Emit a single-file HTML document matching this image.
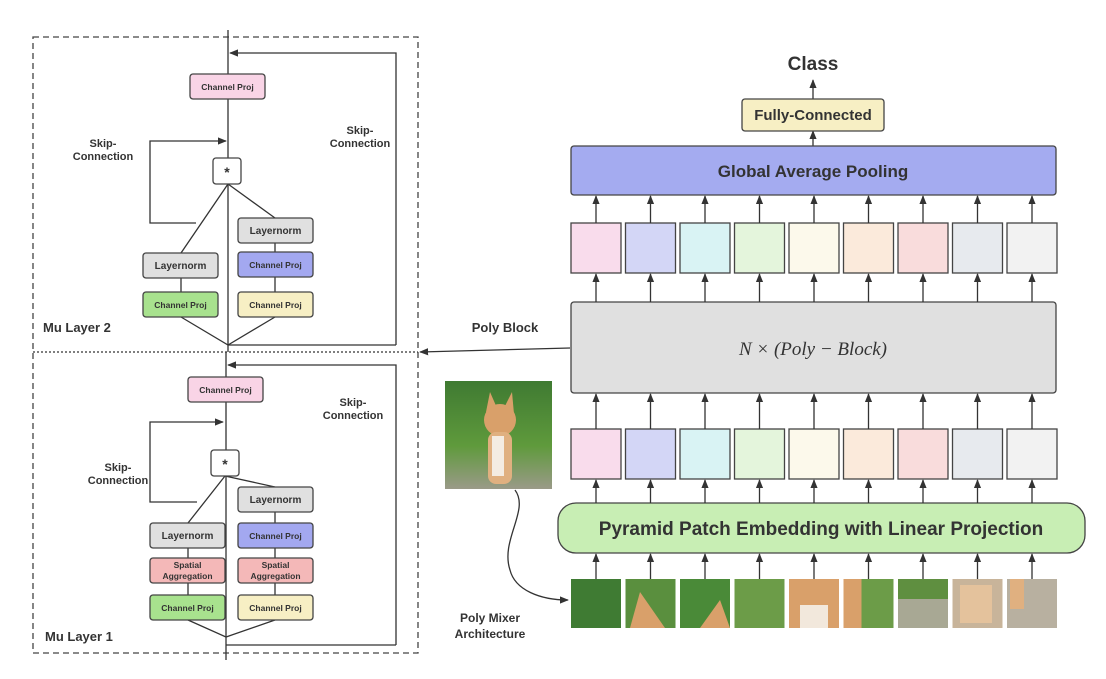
<!DOCTYPE html>
<html><head><meta charset="utf-8"><style>
html,body{margin:0;padding:0;background:#fff}
svg{display:block}
text{font-family:"Liberation Sans",sans-serif;font-weight:bold;fill:#333}
</style></head><body>
<svg width="1106" height="679" viewBox="0 0 1106 679" xmlns="http://www.w3.org/2000/svg">
<defs>
<marker id="a" viewBox="0 0 10 10" refX="9" refY="5" markerWidth="7" markerHeight="7" orient="auto-start-reverse"><path d="M0,1 L10,5 L0,9 z" fill="#333"/></marker>
<linearGradient id="grass" x1="0" y1="0" x2="0" y2="1"><stop offset="0" stop-color="#3f7a32"/><stop offset="0.6" stop-color="#5f9a3c"/><stop offset="1" stop-color="#9a9a88"/></linearGradient>
</defs>
<g stroke="#333" fill="none" stroke-width="1.3">
<!-- left dashed box -->
<rect x="33" y="37" width="385" height="616" stroke-dasharray="6,4" stroke="#444"/>
<line x1="33" y1="352" x2="418" y2="352" stroke-dasharray="2,2"/>
<!-- layer 2 -->
<line x1="228" y1="30" x2="228" y2="352"/>
<polyline points="396,345 396,53 230,53" marker-end="url(#a)"/>
<line x1="396" y1="345" x2="228" y2="345"/>
<polyline points="196,223 150,223 150,141 226,141" marker-end="url(#a)"/>
<line x1="228" y1="184" x2="181" y2="253"/>
<line x1="228" y1="184" x2="275" y2="218"/>
<line x1="181" y1="278" x2="181" y2="292"/>
<line x1="275" y1="243" x2="275" y2="292"/>
<polyline points="181,317 228,345 275,317"/>
<!-- layer 1 -->
<line x1="226" y1="352" x2="226" y2="660"/>
<polyline points="396,645 396,365 228,365" marker-end="url(#a)"/>
<line x1="396" y1="645" x2="226" y2="645"/>
<polyline points="197,502 150,502 150,422 223,422" marker-end="url(#a)"/>
<line x1="225" y1="476" x2="188" y2="523"/>
<line x1="225" y1="476" x2="275" y2="487"/>
<line x1="188" y1="548" x2="188" y2="595"/>
<line x1="275" y1="512" x2="275" y2="595"/>
<polyline points="188,620 226,637 275,620"/>
<!-- poly block arrow -->
<line x1="570" y1="348" x2="420" y2="352" marker-end="url(#a)"/>
<!-- right arrows -->
<line x1="813" y1="99" x2="813" y2="80" marker-end="url(#a)"/>
<line x1="813" y1="146" x2="813" y2="131" marker-end="url(#a)"/>
</g>
<g stroke="#444" stroke-width="1.3" font-size="9">
<rect x="190" y="74" width="75" height="25" rx="3" fill="#f9d4e6"/>
<rect x="213" y="158" width="28" height="26" rx="3" fill="#fff"/>
<rect x="238" y="218" width="75" height="25" rx="3" fill="#e0e0e0"/>
<rect x="238" y="252" width="75" height="25" rx="3" fill="#a3a8f0"/>
<rect x="238" y="292" width="75" height="25" rx="3" fill="#f7efc4"/>
<rect x="143" y="253" width="75" height="25" rx="3" fill="#e0e0e0"/>
<rect x="143" y="292" width="75" height="25" rx="3" fill="#a8e28e"/>

<rect x="188" y="377" width="75" height="25" rx="3" fill="#f9d4e6"/>
<rect x="211" y="450" width="28" height="26" rx="3" fill="#fff"/>
<rect x="238" y="487" width="75" height="25" rx="3" fill="#e0e0e0"/>
<rect x="238" y="523" width="75" height="25" rx="3" fill="#a3a8f0"/>
<rect x="238" y="558" width="75" height="25" rx="3" fill="#f4b8b8"/>
<rect x="238" y="595" width="75" height="25" rx="3" fill="#f7efc4"/>
<rect x="150" y="523" width="75" height="25" rx="3" fill="#e0e0e0"/>
<rect x="150" y="558" width="75" height="25" rx="3" fill="#f4b8b8"/>
<rect x="150" y="595" width="75" height="25" rx="3" fill="#a8e28e"/>
</g>
<g font-size="8.5" text-anchor="middle" fill="#444">
<text x="227.5" y="90">Channel Proj</text>
<text x="227" y="177" font-size="14">*</text>
<text x="275.5" y="234" font-size="10">Layernorm</text>
<text x="275.5" y="268">Channel Proj</text>
<text x="275.5" y="308">Channel Proj</text>
<text x="180.5" y="269" font-size="10">Layernorm</text>
<text x="180.5" y="308">Channel Proj</text>
<text x="225.5" y="393">Channel Proj</text>
<text x="225" y="469" font-size="14">*</text>
<text x="275.5" y="503" font-size="10">Layernorm</text>
<text x="275.5" y="539">Channel Proj</text>
<text x="275.5" y="568">Spatial</text><text x="275.5" y="579">Aggregation</text>
<text x="275.5" y="611">Channel Proj</text>
<text x="187.5" y="539" font-size="10">Layernorm</text>
<text x="187.5" y="568">Spatial</text><text x="187.5" y="579">Aggregation</text>
<text x="187.5" y="611">Channel Proj</text>
</g>
<g font-size="11" text-anchor="middle">
<text x="103" y="147">Skip-</text><text x="103" y="160">Connection</text>
<text x="360" y="134">Skip-</text><text x="360" y="147">Connection</text>
<text x="118" y="471">Skip-</text><text x="118" y="484">Connection</text>
<text x="353" y="406">Skip-</text><text x="353" y="419">Connection</text>
<text x="505" y="332" font-size="13">Poly Block</text>
<text x="490" y="622" font-size="12">Poly Mixer</text>
<text x="490" y="638" font-size="12">Architecture</text>
</g>
<text x="43" y="332" font-size="13">Mu Layer 2</text>
<text x="45" y="641" font-size="13">Mu Layer 1</text>

<!-- right side -->
<text x="813" y="70" font-size="19" text-anchor="middle">Class</text>
<rect x="742" y="99" width="142" height="32" rx="3" fill="#f7efc4" stroke="#444" stroke-width="1.3"/>
<text x="813" y="120" font-size="15" text-anchor="middle">Fully-Connected</text>
<rect x="571" y="146" width="485" height="49" rx="3" fill="#a4abf0" stroke="#444" stroke-width="1.3"/>
<text x="813" y="177" font-size="17" text-anchor="middle">Global Average Pooling</text>
<rect x="571" y="302" width="485" height="91" rx="3" fill="#e0e0e0" stroke="#444" stroke-width="1.3"/>
<text x="813" y="355" font-size="19" text-anchor="middle" style="font-family:'Liberation Serif',serif;font-weight:normal;font-style:italic" fill="#333">N × (Poly − Block)</text>
<rect x="558" y="503" width="527" height="50" rx="18" fill="#c8eeb4" stroke="#444" stroke-width="1.3"/>
<text x="821" y="535" font-size="19" text-anchor="middle">Pyramid Patch Embedding with Linear Projection</text>

<g stroke="#444" stroke-width="1.3">
<rect x="571" y="223" width="50" height="50" fill="#f9dcec"/>
<rect x="625.5" y="223" width="50" height="50" fill="#d3d6f6"/>
<rect x="680" y="223" width="50" height="50" fill="#d9f3f4"/>
<rect x="734.5" y="223" width="50" height="50" fill="#e4f5dc"/>
<rect x="789" y="223" width="50" height="50" fill="#fcf9eb"/>
<rect x="843.5" y="223" width="50" height="50" fill="#fbeadb"/>
<rect x="898" y="223" width="50" height="50" fill="#f9dcdc"/>
<rect x="952.5" y="223" width="50" height="50" fill="#e7eaee"/>
<rect x="1007" y="223" width="50" height="50" fill="#f2f2f2"/>
<rect x="571" y="429" width="50" height="50" fill="#f9dcec"/>
<rect x="625.5" y="429" width="50" height="50" fill="#d3d6f6"/>
<rect x="680" y="429" width="50" height="50" fill="#d9f3f4"/>
<rect x="734.5" y="429" width="50" height="50" fill="#e4f5dc"/>
<rect x="789" y="429" width="50" height="50" fill="#fcf9eb"/>
<rect x="843.5" y="429" width="50" height="50" fill="#fbeadb"/>
<rect x="898" y="429" width="50" height="50" fill="#f9dcdc"/>
<rect x="952.5" y="429" width="50" height="50" fill="#e7eaee"/>
<rect x="1007" y="429" width="50" height="50" fill="#f2f2f2"/>
</g>
<g stroke="#333" stroke-width="1.3" marker-end="url(#a)">
<line x1="596" y1="223" x2="596" y2="196"/><line x1="650.5" y1="223" x2="650.5" y2="196"/><line x1="705" y1="223" x2="705" y2="196"/><line x1="759.5" y1="223" x2="759.5" y2="196"/><line x1="814" y1="223" x2="814" y2="196"/><line x1="868.5" y1="223" x2="868.5" y2="196"/><line x1="923" y1="223" x2="923" y2="196"/><line x1="977.5" y1="223" x2="977.5" y2="196"/><line x1="1032" y1="223" x2="1032" y2="196"/>
<line x1="596" y1="302" x2="596" y2="274"/><line x1="650.5" y1="302" x2="650.5" y2="274"/><line x1="705" y1="302" x2="705" y2="274"/><line x1="759.5" y1="302" x2="759.5" y2="274"/><line x1="814" y1="302" x2="814" y2="274"/><line x1="868.5" y1="302" x2="868.5" y2="274"/><line x1="923" y1="302" x2="923" y2="274"/><line x1="977.5" y1="302" x2="977.5" y2="274"/><line x1="1032" y1="302" x2="1032" y2="274"/>
<line x1="596" y1="429" x2="596" y2="394"/><line x1="650.5" y1="429" x2="650.5" y2="394"/><line x1="705" y1="429" x2="705" y2="394"/><line x1="759.5" y1="429" x2="759.5" y2="394"/><line x1="814" y1="429" x2="814" y2="394"/><line x1="868.5" y1="429" x2="868.5" y2="394"/><line x1="923" y1="429" x2="923" y2="394"/><line x1="977.5" y1="429" x2="977.5" y2="394"/><line x1="1032" y1="429" x2="1032" y2="394"/>
<line x1="596" y1="503" x2="596" y2="480"/><line x1="650.5" y1="503" x2="650.5" y2="480"/><line x1="705" y1="503" x2="705" y2="480"/><line x1="759.5" y1="503" x2="759.5" y2="480"/><line x1="814" y1="503" x2="814" y2="480"/><line x1="868.5" y1="503" x2="868.5" y2="480"/><line x1="923" y1="503" x2="923" y2="480"/><line x1="977.5" y1="503" x2="977.5" y2="480"/><line x1="1032" y1="503" x2="1032" y2="480"/>
<line x1="596" y1="579" x2="596" y2="554"/><line x1="650.5" y1="579" x2="650.5" y2="554"/><line x1="705" y1="579" x2="705" y2="554"/><line x1="759.5" y1="579" x2="759.5" y2="554"/><line x1="814" y1="579" x2="814" y2="554"/><line x1="868.5" y1="579" x2="868.5" y2="554"/><line x1="923" y1="579" x2="923" y2="554"/><line x1="977.5" y1="579" x2="977.5" y2="554"/><line x1="1032" y1="579" x2="1032" y2="554"/>
</g>
<!-- kitten image -->
<rect x="445" y="381" width="107" height="108" fill="url(#grass)"/>
<ellipse cx="500" cy="420" rx="16" ry="16" fill="#d9a06a"/>
<polygon points="486,412 490,392 497,408" fill="#d9a06a"/>
<polygon points="504,408 512,392 514,414" fill="#d9a06a"/>
<rect x="488" y="432" width="24" height="52" rx="8" fill="#e0b080"/>
<rect x="492" y="436" width="12" height="40" fill="#f4ece2"/>
<!-- patches -->
<rect x="571" y="579" width="50" height="49" fill="#3f7b33"/>
<rect x="625.5" y="579" width="50" height="49" fill="#5a8f3e"/><polygon points="630,628 640,592 665,628" fill="#d9a06a"/>
<rect x="680" y="579" width="50" height="49" fill="#4a8a38"/><polygon points="700,628 720,600 730,628" fill="#d9a06a"/>
<rect x="734.5" y="579" width="50" height="49" fill="#6c9c48"/>
<rect x="789" y="579" width="50" height="49" fill="#d9a06a"/><rect x="800" y="605" width="28" height="23" fill="#f2e8dc"/>
<rect x="843.5" y="579" width="50" height="49" fill="#6c9c48"/><rect x="843.5" y="579" width="18" height="49" fill="#d9a06a"/>
<rect x="898" y="579" width="50" height="49" fill="#a8a894"/><rect x="898" y="579" width="50" height="20" fill="#5f8f40"/>
<rect x="952.5" y="579" width="50" height="49" fill="#c8b49a"/><rect x="960" y="585" width="32" height="38" fill="#e4c29c"/>
<rect x="1007" y="579" width="50" height="49" fill="#b8b0a0"/><rect x="1010" y="579" width="14" height="30" fill="#e0b080"/>
<path d="M515,490 C530,510 500,540 510,570 C515,590 540,600 568,600" stroke="#333" stroke-width="1.3" fill="none" marker-end="url(#a)"/>
</svg>
</body></html>
